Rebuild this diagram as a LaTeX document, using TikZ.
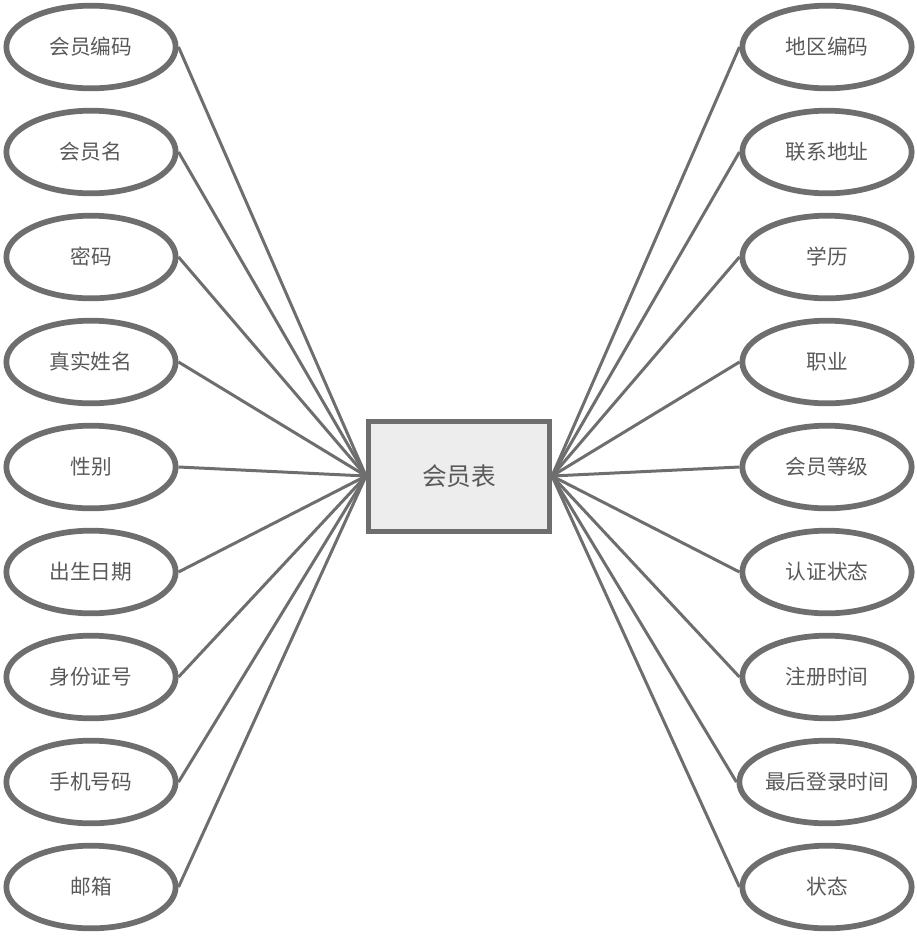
\documentclass[tikz,border=0pt]{standalone}
\usepackage{fontspec}
\setmainfont{Noto Sans CJK SC}
\usepackage{tikz}
\usetikzlibrary{positioning,shapes.geometric}
\definecolor{linegray}{HTML}{6E6E6E}
\definecolor{textgray}{HTML}{595959}
\definecolor{boxfill}{HTML}{EDEDED}

\begin{document}
\begin{tikzpicture}[
        x=0.75pt, y=-0.75pt,
        node distance=78.75pt, on grid,
        attr/.style={draw=linegray, ellipse, line width=4.3pt, fill=white, minimum width=127pt, minimum height=62pt, inner sep=0pt, text=textgray, font=\fontsize{15.5}{18}\selectfont},
        entity/.style={draw=linegray, line width=3.75pt, fill=boxfill, minimum width=135.75pt, minimum height=82.5pt, inner sep=0pt, text=textgray, font=\fontsize{18.5}{22}\selectfont},
        link/.style={draw=linegray, line width=2.25pt}
    ]
    \useasboundingbox (0,0) rectangle (917,951);
    % Entity
    \node[entity] (member) at (459,476) {会员表};
    % Left attributes
    \node[attr] (id) at (91,47) {会员编码};
    \node[attr, below=of id] (name) {会员名};
    \node[attr, below=of name] (pwd) {密码};
    \node[attr, below=of pwd] (realname) {真实姓名};
    \node[attr, below=of realname] (gender) {性别};
    \node[attr, below=of gender] (birth) {出生日期};
    \node[attr, below=of birth] (idcard) {身份证号};
    \node[attr, below=of idcard] (phone) {手机号码};
    \node[attr, below=of phone] (mail) {邮箱};
    % Right attributes
    \node[attr] (area) at (827,47) {地区编码};
    \node[attr, below=of area] (addr) {联系地址};
    \node[attr, below=of addr] (edu) {学历};
    \node[attr, below=of edu] (job) {职业};
    \node[attr, below=of job] (level) {会员等级};
    \node[attr, below=of level] (auth) {认证状态};
    \node[attr, below=of auth] (regtime) {注册时间};
    \node[attr, below=of regtime] (lastlogin) {最后登录时间};
    \node[attr, below=of lastlogin] (status) {状态};
    % Links
    \draw[link] (id.east) -- (member.west);
    \draw[link] (name.east) -- (member.west);
    \draw[link] (pwd.east) -- (member.west);
    \draw[link] (realname.east) -- (member.west);
    \draw[link] (gender.east) -- (member.west);
    \draw[link] (birth.east) -- (member.west);
    \draw[link] (idcard.east) -- (member.west);
    \draw[link] (phone.east) -- (member.west);
    \draw[link] (mail.east) -- (member.west);
    \draw[link] (area.west) -- (member.east);
    \draw[link] (addr.west) -- (member.east);
    \draw[link] (edu.west) -- (member.east);
    \draw[link] (job.west) -- (member.east);
    \draw[link] (level.west) -- (member.east);
    \draw[link] (auth.west) -- (member.east);
    \draw[link] (regtime.west) -- (member.east);
    \draw[link] (lastlogin.west) -- (member.east);
    \draw[link] (status.west) -- (member.east);
\end{tikzpicture}
\end{document}
